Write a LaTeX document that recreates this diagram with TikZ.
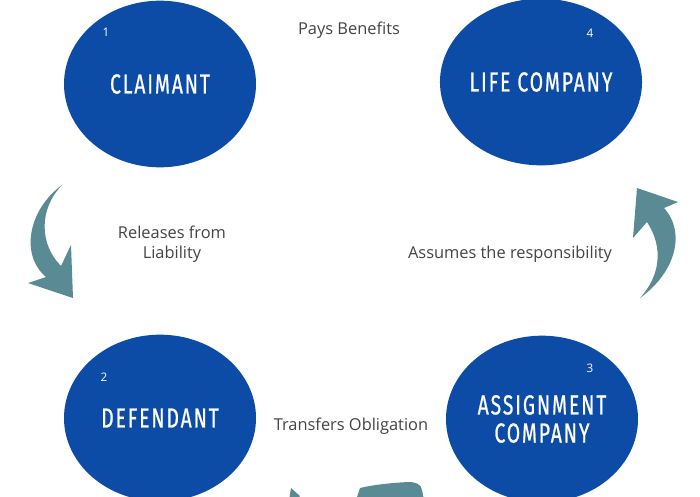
\documentclass[tikz,border=0pt]{standalone}
\usepackage{fontspec}
\setmainfont{Open Sans}
\newfontfamily\condfont[FakeStretch=0.7,LetterSpace=7,FakeBold=0.8]{Fira Sans}
\usetikzlibrary{shapes.geometric}
\definecolor{discblue}{RGB}{12,76,166}
\definecolor{arrowteal}{RGB}{90,139,148}
\definecolor{labelgray}{RGB}{68,68,68}
\tikzset{
  party/.style={ellipse, fill=discblue, text=white, minimum width=5.76cm, minimum height=5cm,
    inner sep=0pt, align=center, font=\condfont\fontsize{23.5}{26}\selectfont},
  stepno/.style={text=white, font=\fontsize{10}{11}\selectfont},
  flowlabel/.style={text=labelgray, align=center, font=\fontsize{14}{17}\selectfont}
}
\begin{document}
\begin{tikzpicture}[x=0.03cm,y=-0.03cm]
				\useasboundingbox (0,0) rectangle (700,496);
				\clip (0,0) rectangle (700,496);
				\fill[white] (0,0) rectangle (700,496);
				% the four parties
				\node[party] (claimant) at (160,84) {CLAIMANT};
				\node[party] (life) at (541,82) {LIFE COMPANY};
				\node[party] (defendant) at (160,418) {DEFENDANT};
				\node[party] (assign) at (542,419) {ASSIGNMENT\\[-2pt]COMPANY};
				\node[stepno] (n1) at (106,32) {1};
				\node[stepno] (n2) at (104,377) {2};
				\node[stepno] (n3) at (590,368) {3};
				\node[stepno] (n4) at (590,33) {4};
				% flow labels
				\node[flowlabel] (pays) at (349,30) {Pays Benefits};
				\node[flowlabel] (releases) at (172,244) {Releases from\\Liability};
				\node[flowlabel] (assumes) at (510,254) {Assumes the responsibility};
				\node[flowlabel] (transfers) at (351,426) {Transfers Obligation};
				% curved arrows
				\fill[arrowteal] (62,185) .. controls (28,210) and (20,255) .. (46,277) -- (28,283) -- (73,298) -- (71,245)
					-- (61,266) .. controls (40,245) and (38,210) .. (62,185);
				\fill[arrowteal] (640,298) .. controls (676,272) and (686,232) .. (664,208) -- (678,202) -- (637,188) -- (633,238)
					-- (647,222) .. controls (664,248) and (660,276) .. (640,298);
				\fill[arrowteal] (424,500) -- (422,490) .. controls (421,484) and (416,482) .. (408,482)
					.. controls (390,483) and (372,485) .. (360,488) -- (356,500) -- cycle;
				\fill[arrowteal] (291,488) -- (300,496) -- (296,500) -- (289,500) -- cycle;
\end{tikzpicture}
\end{document}
